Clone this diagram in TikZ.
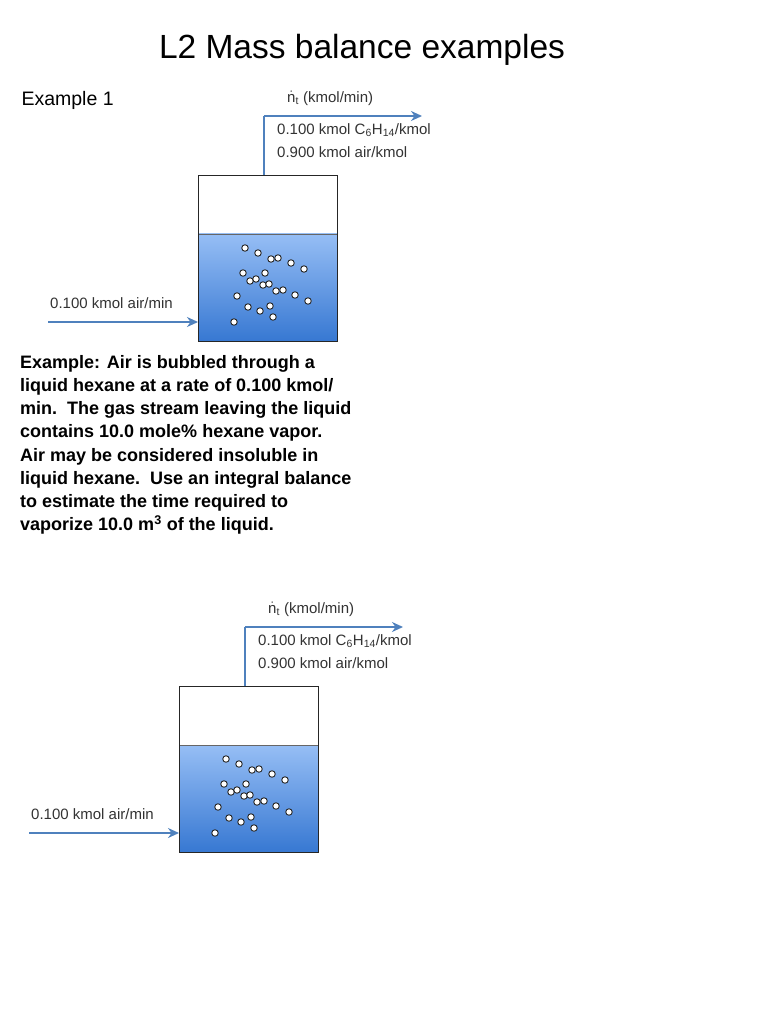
\documentclass[tikz,border=0pt]{standalone}
\usepackage{fontspec}
\setmainfont{Liberation Sans}
\usetikzlibrary{arrows.meta}
\begin{document}
\begin{tikzpicture}[x=1pt,y=-1pt,
  pipe/.style={draw=pipeblue,line width=2.4pt},
  arr/.style={pipe,-{Stealth[length=11pt,width=10pt]}},
  lbl/.style={anchor=west,inner sep=0pt,font=\fontsize{15}{17}\selectfont,text=black!80},
  bub/.style={circle,draw=black!85,fill=white,line width=0.9pt,inner sep=0pt,minimum size=6.5pt}]
\definecolor{pipeblue}{RGB}{79,129,189}
\definecolor{liqtop}{RGB}{150,190,245}
\definecolor{liqbot}{RGB}{55,120,210}
\useasboundingbox (0,0) rectangle (768,1024);
\fill[white] (0,0) rectangle (768,1024);
\node[font=\fontsize{33.5}{38}\selectfont] (title) at (362,50) {L2 Mass balance examples};
\node[anchor=west,font=\fontsize{19.5}{22}\selectfont] (ex1) at (18,100) {Example 1};
\node[anchor=north west,inner sep=0pt,align=left,font=\bfseries\fontsize{18}{23.2}\selectfont] (para) at (20,355)
 {Example: Air is bubbled through a\\ liquid hexane at a rate of 0.100 kmol/\\ min.\ \ The gas stream leaving the liquid\\ contains 10.0 mole\% hexane vapor.\\ Air may be considered insoluble in\\ liquid hexane.\ \ Use an integral balance\\ to estimate the time required to\\ vaporize 10.0 m\textsuperscript{3} of the liquid.};
\foreach \dx/\dy/\t in {0/0/a,-19/511/b}{
 \begin{scope}[shift={(\dx,\dy)}]
  \shade[top color=liqtop,bottom color=liqbot] (198,234) rectangle (337,341);
  \draw[black!60,line width=0.5pt] (198,234) -- (337,234);
  \node[draw=black!85,line width=1.3pt,minimum width=139pt,minimum height=166pt,inner sep=0pt,anchor=north west] (tank\t) at (198,175) {};
  \coordinate (top\t) at (264,175);
  \coordinate (bend\t) at (264,116);
  \coordinate (out\t) at (422,116);
  \coordinate (in\t) at (48,322);
  \draw[pipe] (top\t) -- (bend\t);
  \draw[arr] (bend\t) -- (out\t);
  \draw[arr] (in\t) -- (198,322);
  \node[lbl] (nt\t) at (287,98) {$\dot{\mathrm{n}}_{\mathrm t}$ (kmol/min)};
  \node[lbl] (l1\t) at (277,130) {0.100 kmol C\textsubscript{6}H\textsubscript{14}/kmol};
  \node[lbl] (l2\t) at (277,152) {0.900 kmol air/kmol};
  \node[lbl] (inl\t) at (50,303) {0.100 kmol air/min};
  \foreach \bx/\by in {245/248,258/253,271/259,278/258,291/263,304/269,243/273,265/273,250/281,256/279,263/285,269/284,276/291,283/290,295/295,308/301,237/296,248/307,260/311,270/306,273/317,234/322}
   \node[bub] at (\bx,\by) {};
 \end{scope}}
\end{tikzpicture}
\end{document}
